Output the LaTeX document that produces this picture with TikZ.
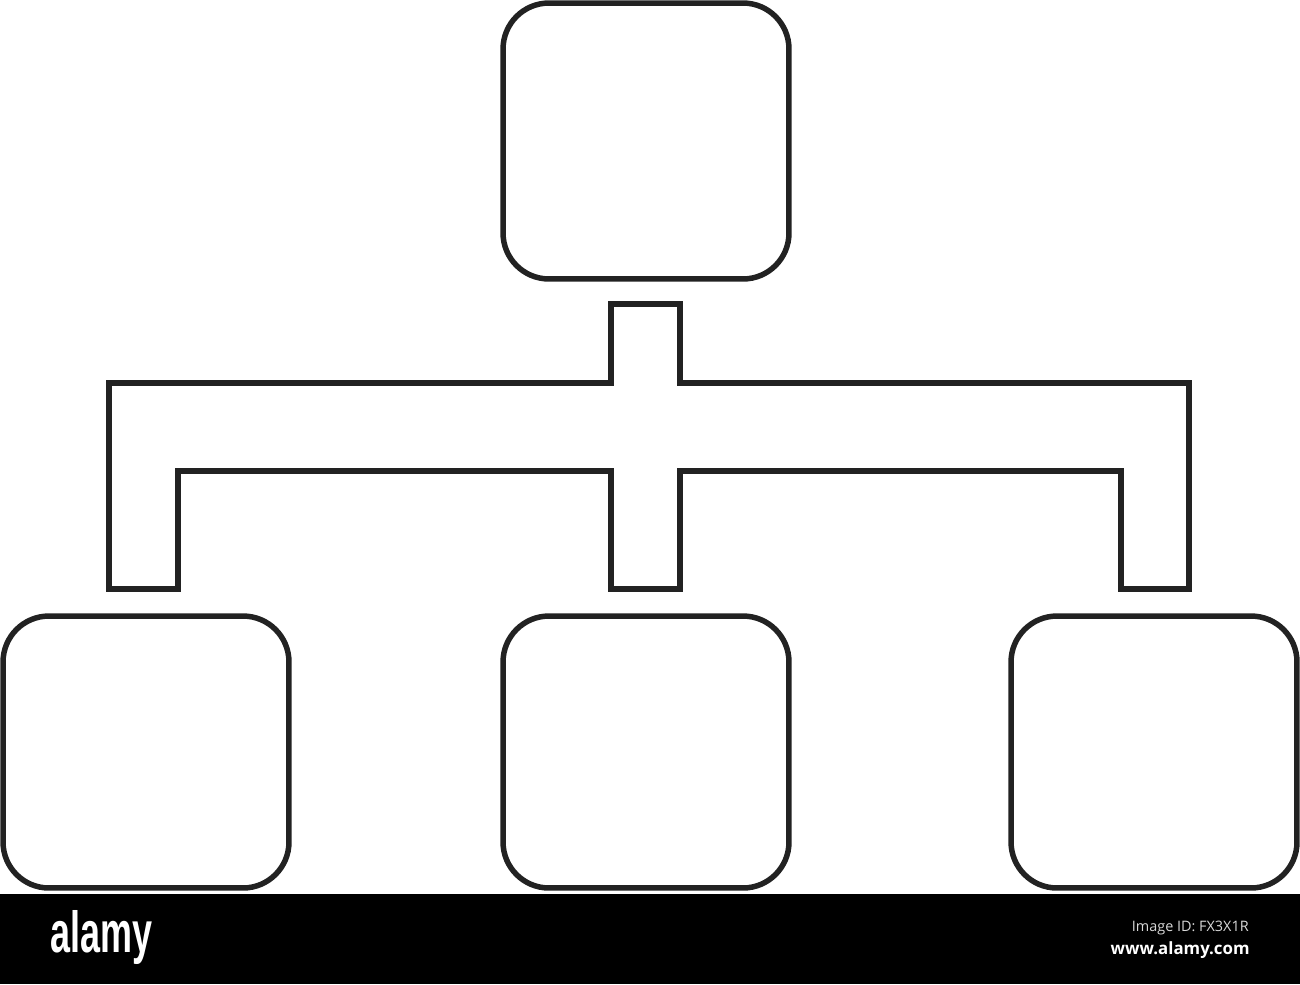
\documentclass[tikz,border=0pt]{standalone}
\usepackage{fontspec}
\setmainfont{Open Sans}
\newfontfamily\logofont{Liberation Sans}
\definecolor{ink}{HTML}{222222}
\tikzset{
  box/.style={draw=ink, line width=0.11cm, rounded corners=0.92cm, minimum width=5.72cm, inner sep=0pt, fill=white},
  topbox/.style={box, minimum height=5.52cm},
  lowbox/.style={box, minimum height=5.44cm},
  pipe/.style={draw=ink, line width=0.11cm, line join=miter},
}
\begin{document}
\begin{tikzpicture}[x=0.02cm, y=-0.02cm]
\useasboundingbox (0,0) rectangle (1300,984);
\fill[white] (0,0) rectangle (1300,984);
% boxes
\node[topbox] (top) at (646,141) {};
\node[lowbox] (left) at (146,752) {};
\node[lowbox] (mid) at (646,752) {};
\node[lowbox] (right) at (1154,752) {};
% connector outline
\draw[pipe] (611,304) -- (680,304) -- (680,383) -- (1189,383) -- (1189,589)
  -- (1121,589) -- (1121,471) -- (680,471) -- (680,589) -- (611,589)
  -- (611,471) -- (178,471) -- (178,589) -- (109,589) -- (109,383)
  -- (611,383) -- cycle;
% watermark bar
\fill[black] (0,894) rectangle (1300,984);
\node[text=white, font=\logofont\bfseries\fontsize{33}{33}\selectfont, xscale=0.62, anchor=base west, inner sep=0pt] (logo) at (50,952) {alamy};
\node[text=white!85!black, font=\fontsize{8.2}{9}\selectfont, anchor=base east, inner sep=0pt] (imgid) at (1249,931) {Image ID: FX3X1R};
\node[text=white, font=\bfseries\fontsize{9.6}{11}\selectfont, anchor=base east, inner sep=0pt] (www) at (1250,954) {www.alamy.com};
\end{tikzpicture}
\end{document}
